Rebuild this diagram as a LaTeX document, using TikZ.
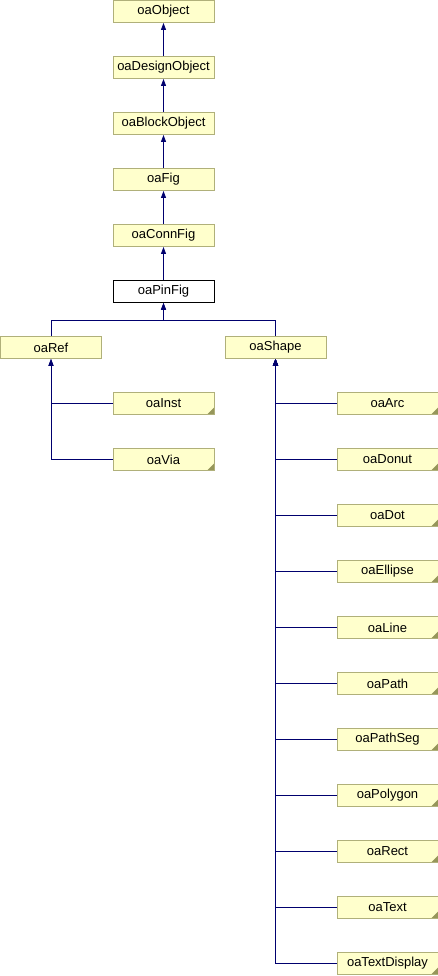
\documentclass[tikz,border=0pt]{standalone}
\usepackage{fontspec}
\setmainfont{Liberation Sans}
\usetikzlibrary{arrows.meta}
\definecolor{boxfill}{RGB}{255,255,204}
\definecolor{boxline}{RGB}{176,176,122}
\definecolor{corner}{RGB}{150,150,90}
\definecolor{edge}{RGB}{0,0,110}
\tikzset{
  cls/.style={draw=boxline, fill=boxfill, line width=0.9pt, minimum width=101pt, minimum height=22pt, inner sep=0pt, font=\fontsize{13}{15}\selectfont},
  cur/.style={draw=black, fill=white, line width=0.9pt, minimum width=101pt, minimum height=22pt, inner sep=0pt, font=\fontsize{13}{15}\selectfont},
  leaf/.style={cls, path picture={\fill[corner] ([xshift=-7pt]path picture bounding box.south east) -- (path picture bounding box.south east) -- ([yshift=7pt]path picture bounding box.south east) -- cycle;}},
  arr/.style={draw=edge, line width=0.9pt, -{Triangle[length=7pt,width=5pt]}}
}
\begin{document}
\begin{tikzpicture}[x=1pt,y=-1pt]
\useasboundingbox (0,0) rectangle (438,976);
\node[cls] (obj) at (163.5,11.5) {oaObject};
\node[cls] (dobj) at (163.5,67.5) {oaDesignObject};
\node[cls] (bobj) at (163.5,123.5) {oaBlockObject};
\node[cls] (fig) at (163.5,179.5) {oaFig};
\node[cls] (cfig) at (163.5,235.5) {oaConnFig};
\node[cur] (pfig) at (163.5,291.5) {oaPinFig};
\node[cls] (ref) at (51,347.5) {oaRef};
\node[cls] (shape) at (275.5,347.5) {oaShape};
\node[leaf] (inst) at (163.5,403.5) {oaInst};
\node[leaf] (via) at (163.5,459.5) {oaVia};
\foreach \n/\t [count=\i from 0] in {arc/oaArc,donut/oaDonut,dot/oaDot,ellipse/oaEllipse,line/oaLine,path/oaPath,pathseg/oaPathSeg,polygon/oaPolygon,rect/oaRect,text/oaText,textdisplay/oaTextDisplay}
  \node[leaf] (\n) at (387.5,403.5+56*\i) {\t};
\draw[arr] (dobj) -- (obj);
\draw[arr] (bobj) -- (dobj);
\draw[arr] (fig) -- (bobj);
\draw[arr] (cfig) -- (fig);
\draw[arr] (pfig) -- (cfig);
\draw[arr] (ref.north) -- ++(0,-16) -| (pfig.south);
\draw[arr] (shape.north) -- ++(0,-16) -| (pfig.south);
\draw[arr] (inst.west) -| (ref.south);
\draw[arr] (via.west) -| (ref.south);
\foreach \n in {arc,donut,dot,ellipse,line,path,pathseg,polygon,rect,text,textdisplay}
  \draw[arr] (\n.west) -| (shape.south);
\end{tikzpicture}
\end{document}
